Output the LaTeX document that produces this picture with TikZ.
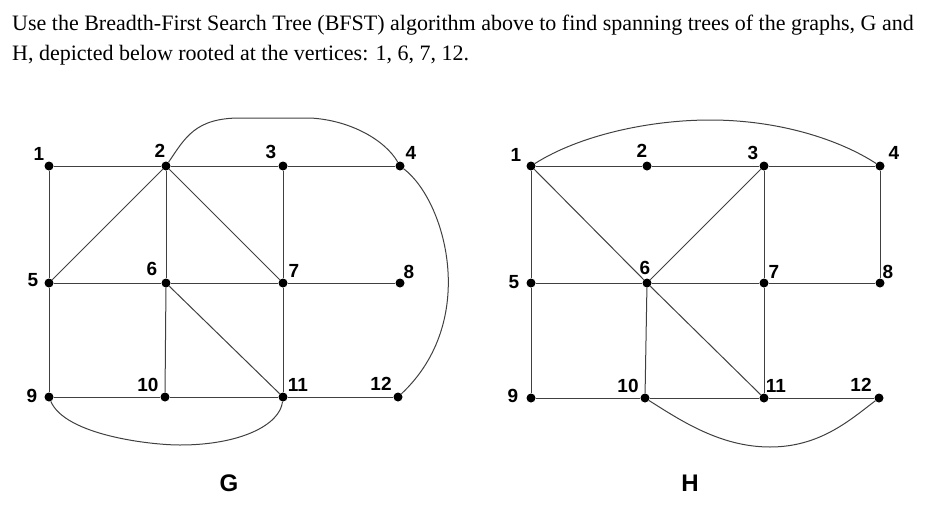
\documentclass[tikz,border=0pt]{standalone}
\usepackage{fontspec}
\setmainfont{Liberation Serif}
\newfontfamily\lsans{Liberation Sans}
\begin{document}
\begin{tikzpicture}[x=1pt,y=-1pt,
  vtx/.style={circle,fill=black,inner sep=0pt,minimum size=9pt},
  lab/.style={font=\lsans\bfseries\fontsize{19}{19}\selectfont,inner sep=0pt},
  edge/.style={draw=black!75,line width=1pt}]
\useasboundingbox (0,0) rectangle (927,504);
\node[anchor=base west,inner sep=0pt,font=\fontsize{22}{22}\selectfont] (t1) at (12,30) {Use the Breadth-First Search Tree (BFST) algorithm above to find spanning trees of the graphs, G and};
\node[anchor=base west,inner sep=0pt,font=\fontsize{22}{22}\selectfont] (t2) at (12,60) {H, depicted below rooted at the vertices: 1, 6, 7, 12.};
% Graph G
\foreach \n/\x/\y in {1/49/166,2/166/166,3/283/166,4/400/166,5/49/283,6/166/283,7/283/283,8/400/283,9/49/397,10/165/397,11/283/397,12/398/397}
  \node[vtx] (g\n) at (\x,\y) {};
\foreach \n/\x/\y in {1/39/154,2/160/151,3/271/152,4/411/153,5/33/280,6/152/269,7/294/271,8/409/272,9/32/396,10/148/385,11/298/385,12/381/384}
  \node[lab] (gl\n) at (\x,\y) {\n};
\foreach \a/\b in {1/2,2/3,3/4,1/5,5/9,2/5,2/6,2/7,3/7,5/6,6/7,7/8,6/10,6/11,7/11,9/10,10/11,11/12}
  \path[edge] (g\a) -- (g\b);
\path[edge] (g2) .. controls (185,138) and (195,118) .. (240,118) -- (310,118) .. controls (350,120) and (385,140) .. (g4);
\path[edge] (g4) .. controls (445,200) and (480,320) .. (g12);
\path[edge] (g9) .. controls (65,435) and (150,445) .. (180,445) .. controls (240,445) and (280,425) .. (g11);
\node[font=\lsans\bfseries\fontsize{24}{24}\selectfont,inner sep=0pt] (G) at (229,483) {G};
% Graph H
\foreach \n/\x/\y in {1/531/166,2/647/166,3/764/166,4/880/166,5/531/283,6/647/283,7/764/283,8/880/283,9/531/398,10/645/398,11/764/398,12/879/398}
  \node[vtx] (h\n) at (\x,\y) {};
\foreach \n/\x/\y in {1/516/155,2/642/151,3/753/153,4/894/153,5/514/282,6/645/268,7/774/272,8/888/272,9/513/396,10/628/386,11/776/386,12/861/385}
  \node[lab] (hl\n) at (\x,\y) {\n};
\foreach \a/\b in {1/2,2/3,3/4,1/5,5/9,1/6,3/6,3/7,4/8,5/6,6/7,7/8,6/10,6/11,7/11,9/10,10/11,11/12}
  \path[edge] (h\a) -- (h\b);
\path[edge] (h1) .. controls (580,135) and (650,120) .. (710,120) .. controls (780,120) and (840,140) .. (h4);
\path[edge] (h10) .. controls (680,420) and (720,447) .. (770,447) .. controls (820,447) and (850,420) .. (h12);
\node[font=\lsans\bfseries\fontsize{24}{24}\selectfont,inner sep=0pt] (H) at (690,483) {H};
\end{tikzpicture}
\end{document}
